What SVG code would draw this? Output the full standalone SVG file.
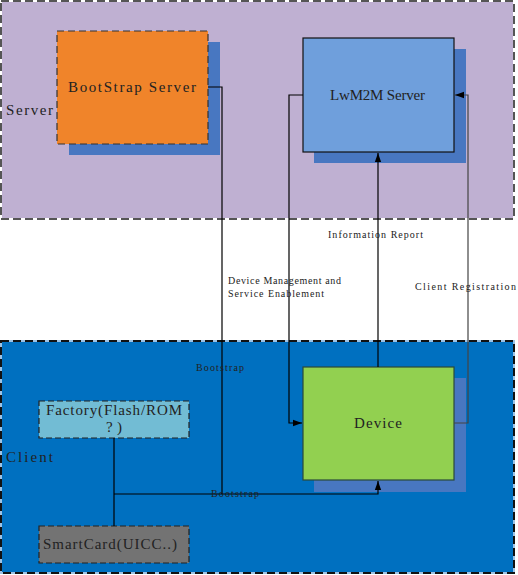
<svg xmlns="http://www.w3.org/2000/svg" width="518" height="575" viewBox="0 0 518 575">
<defs>
<style>
.t{font-family:"Liberation Serif","DejaVu Serif",serif;fill:#222;}
.big{font-size:15px;}
.sm{font-size:10px;}
.ln{fill:none;stroke:#000;stroke-width:1.2;}
.shadow{fill:#4877C1;}
</style>
<marker id="ah" viewBox="0 0 10 10" refX="10" refY="5" markerWidth="9" markerHeight="9" markerUnits="userSpaceOnUse" orient="auto">
<path d="M0,1.5 L10,5 L0,8.5 Z" fill="#000"/>
</marker>
</defs>
<rect width="518" height="575" fill="#fff"/>
<g id="server-region">
<rect x="1" y="1" width="513" height="218" fill="#BFB0D2" stroke="#fff" stroke-width="2"/>
<rect x="1" y="1" width="513" height="218" fill="none" stroke="#555" stroke-width="2" stroke-dasharray="8,4"/>
<text class="t big" x="6" y="115" textLength="47">Server</text>
</g>
<g id="client-region">
<rect x="1" y="341" width="513" height="232" fill="#0070C0" stroke="#9DC3E6" stroke-width="2"/>
<rect x="1" y="341" width="513" height="232" fill="none" stroke="#111" stroke-width="2" stroke-dasharray="8,4"/>
<text class="t big" x="6" y="462" textLength="47">Client</text>
</g>
<g id="bootstrap-server">
<rect class="shadow" x="69" y="42" width="151" height="113"/>
<rect x="57" y="31" width="151" height="113" fill="#F0842A" stroke="#333" stroke-width="1.2" stroke-dasharray="7,4"/>
<text class="t big" x="68" y="92" textLength="128">BootStrap Server</text>
</g>
<g id="lwm2m-server">
<rect class="shadow" x="314" y="49" width="152" height="114"/>
<rect x="303" y="38" width="151" height="114" fill="#6F9FDC" stroke="#111" stroke-width="1.2"/>
<text class="t big" x="330" y="100" textLength="95">LwM2M Server</text>
</g>
<g id="device">
<rect class="shadow" x="314" y="378" width="152" height="114"/>
<rect x="303" y="367" width="151" height="113" fill="#92D050" stroke="#2A4A3A" stroke-width="1.2"/>
<text class="t big" x="354" y="428" textLength="48">Device</text>
</g>
<g id="factory">
<rect x="39" y="401" width="150" height="37" fill="#72BCD4" stroke="#222" stroke-width="1.2" stroke-dasharray="6,3"/>
<text class="t big" x="46" y="415" textLength="136">Factory(Flash/ROM</text>
<text class="t big" x="106" y="432" textLength="16">?)</text>
</g>
<g id="smartcard">
<rect x="39" y="526" width="150" height="37" fill="#737373" stroke="#222" stroke-width="1.2" stroke-dasharray="6,3"/>
<text class="t big" x="43" y="549" textLength="134">SmartCard(UICC..)</text>
</g>
<g id="connectors">
<polyline class="ln" points="208,87 222,87 222,494"/>
<line class="ln" x1="114" y1="438" x2="114" y2="526"/>
<polyline class="ln" points="114,494 378,494 378,481" marker-end="url(#ah)"/>
<line class="ln" x1="378" y1="367" x2="378" y2="153" marker-end="url(#ah)"/>
<polyline class="ln" points="303,95 289,95 289,423 302,423" marker-end="url(#ah)"/>
<polyline class="ln" points="454,423 468,423 468,95 455,95" marker-end="url(#ah)" style="stroke:#444"/>
<text class="t sm" x="328" y="238" textLength="95">Information Report</text>
<text class="t sm" x="228" y="284" textLength="113">Device Management and</text>
<text class="t sm" x="228" y="297" textLength="96">Service Enablement</text>
<text class="t sm" x="415" y="290" textLength="101">Client Registration</text>
<text class="t sm" x="196" y="371" textLength="48">Bootstrap</text>
<text class="t sm" x="211" y="497" textLength="48">Bootstrap</text>
</g>
</svg>
